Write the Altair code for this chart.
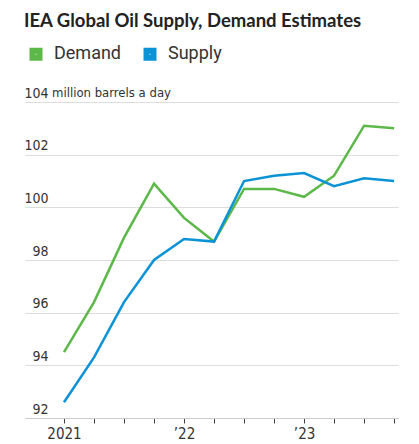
import altair as alt
import pandas as pd

# quarterly estimates, 2021 Q1 .. 2023 Q4 (million barrels a day)
quarters = list(range(12))
demand = [94.5, 96.4, 98.85, 100.9, 99.6, 98.7, 100.7, 100.7, 100.4, 101.2, 103.1, 103.0]
supply = [92.6, 94.3, 96.4, 98.0, 98.8, 98.7, 101.0, 101.2, 101.3, 100.8, 101.1, 101.0]
series = ["Demand", "Supply"]
colors = ["#5cb848", "#0b93d6"]
y_ticks = [92, 94, 96, 98, 100, 102, 104]
unit_label = "million barrels a day"

df = pd.concat([
    pd.DataFrame({"q": quarters, "series": "Demand", "value": demand}),
    pd.DataFrame({"q": quarters, "series": "Supply", "value": supply}),
])

font = "Liberation Sans Narrow, DejaVu Sans Condensed, sans-serif"

title = alt.TitleParams(
    "IEA Global Oil Supply, Demand Estimates",
    fontSize=18.5,
    font="Lato",
    fontWeight="bold",
    color="#222",
    anchor="start",
    offset=15,
)

x_scale = alt.Scale(domain=[-1.3, 11.13], nice=False, zero=False)
y_scale = alt.Scale(domain=[92, 104], nice=False, zero=False)

lines = alt.Chart(df).mark_line(strokeWidth=2.5).encode(
    alt.X("q:Q", title=None, scale=x_scale,
          axis=alt.Axis(values=quarters, grid=False, domainColor="#cccccc",
                        tickColor="#444", tickSize=5, labelPadding=3,
                        labelFontSize=15, labelColor="#333", labelFont=font,
                        labelExpr="datum.value == 0 ? '2021' : datum.value == 4 ? '\u201922' : datum.value == 8 ? '\u201923' : ''")),
    alt.Y("value:Q", title=None, scale=y_scale,
          axis=alt.Axis(values=y_ticks, domain=False, ticks=False,
                        tickSize=0, labelPadding=-23, labelAlign="right", labelBaseline="alphabetic",
                        labelOffset=-5, labelFontSize=14, labelColor="#333", labelFont=font,
                        gridColor="#dddddd")),
    alt.Color("series:N", title=None,
              scale=alt.Scale(domain=series, range=colors),
              legend=alt.Legend(orient="none", legendX=2, legendY=-57, direction="horizontal",
                                symbolType="square", symbolSize=49, symbolStrokeWidth=6,
                                symbolOpacity=1, labelFontSize=18, labelFont="Roboto",
                                labelColor="#333", labelOffset=9, columnPadding=12)),
)

# unit text that follows the top tick label
unit = alt.Chart(pd.DataFrame({"t": [unit_label], "v": [y_ticks[-1]]})).mark_text(
    align="left", baseline="alphabetic", dy=-5, fontSize=13, font=font, color="#333"
).encode(
    x=alt.value(27),
    y=alt.Y("v:Q", scale=y_scale),
    text="t:N",
)

chart = alt.layer(lines, unit, title=title).properties(
    width=373,
    height=316,
    autosize=alt.AutoSizeParams(type="none"),
    padding={"left": 17, "top": 94, "right": 12, "bottom": 26},
).configure_view(stroke=None)

chart.save("out.html", embed_options={"renderer": "svg", "actions": False})
